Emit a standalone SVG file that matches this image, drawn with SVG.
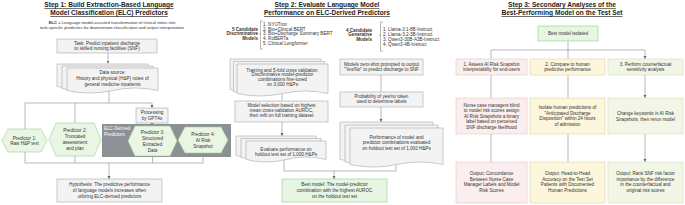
<svg xmlns="http://www.w3.org/2000/svg" width="685" height="205" viewBox="0 0 685 205">
<defs>
<style>
text{font-family:"Liberation Sans",Arial,sans-serif;fill:#333;font-size:4.6px;text-anchor:middle}
.h{font-weight:bold;font-size:6.6px;text-decoration:underline;fill:#222}
.b{font-weight:bold}
.s{font-size:4.2px}
.l{text-anchor:start}
.r{text-anchor:end}
.w{fill:#fff;text-anchor:start}
.box{fill:#f3f3f3;stroke:#a9a9a9;stroke-width:0.6}
.doc{fill:#f3f3f3;stroke:#a9a9a9;stroke-width:0.6}
.grn{fill:#e7f6e2;stroke:#8fcf88;stroke-width:0.6}
.hex{fill:#eaf6e4;stroke:#9ccf8f;stroke-width:0.6}
.pk{fill:#fbeeee;stroke:#e3c6c6;stroke-width:0.6}
.yl{fill:#fbf6dc;stroke:#e0d6a2;stroke-width:0.6}
.lg{fill:#f2f6e6;stroke:#d0ddb8;stroke-width:0.6}
.c{fill:none;stroke:#8a8a8a;stroke-width:0.6}
.a{marker-end:url(#ah)}
</style>
<marker id="ah" markerWidth="4" markerHeight="4" refX="3" refY="1.5" orient="auto" markerUnits="userSpaceOnUse"><path d="M0,0 L3,1.5 L0,3 z" fill="#666"/></marker>
</defs>

<g id="titles">
<text class="h" x="109" y="7.4">Step 1: Build Extraction-Based Language</text>
<text class="h" x="109" y="15.1">Model Classification (ELC) Predictors</text>
<text class="h" x="327" y="7.4">Step 2: Evaluate Language Model</text>
<text class="h" x="327" y="15.1">Performance on ELC-Derived Predictors</text>
<text class="h" x="562" y="7.4">Step 3: Secondary Analyses of the</text>
<text class="h" x="562" y="15.1">Best-Performing Model on the Test Set</text>
</g>

<g id="elc-def">
<text class="s" x="112" y="24.2"><tspan class="b">ELC</tspan> = Language model-assisted transformation of clinical notes into</text>
<text class="s" x="112" y="29.2">task-specific predictors for downstream classification and output interpretation</text>
</g>

<g id="connectors">
<path class="c a" d="M108,53 V63.5"/>
<path class="c" d="M109,91 V103 M25,103 H152"/>
<path class="c a" d="M25,103 V129 M75,103 V123 M152,103 V108"/>
<path class="c a" d="M152,123 V126"/>
<path class="c" d="M177,145 H179"/>
<path class="c" d="M25,152 V163 M75,156 V163 M152.5,156 V163 M203,153 V163 M25,163 H203"/>
<path class="c a" d="M109,163 V179"/>
<path class="c a" d="M282,94 V101 M282,122 V136"/>
<path class="c a" d="M381,75 V92 M381,107 V122"/>
<path class="c" d="M284,160 V171 M396,164.5 V171 M284,171 H396"/>
<path class="c a" d="M334,171 V179"/>
<path class="c" d="M568,41 V50 M491,50 H645"/>
<path class="c a" d="M491,50 V59 M568,50 V59 M645,50 V59"/>
<path class="c a" d="M491,75 V98 M568,75 V98 M645,75 V98"/>
<path class="c a" d="M491,134 V162 M568,134 V162 M645,134 V162"/>
</g>

<g id="task">
<rect class="box" x="57" y="39" width="100" height="14"/>
<text x="107" y="44.6">Task: Predict inpatient discharge</text>
<text x="107" y="50.4">to skilled nursing facilities (SNF)</text>
</g>

<g id="data-source">
<path class="doc" d="M57,64 H148 V86.5 Q125.25,81.5 102.5,86.5 T57,86.5 Z"/>
<path class="doc" d="M62,66 H153 V88.5 Q130.25,83.5 107.5,88.5 T62,88.5 Z"/>
<path class="doc" d="M67,68 H158 V90.5 Q135.25,85.5 112.5,90.5 T67,90.5 Z"/>
<text x="112.5" y="73.7">Data source:</text>
<text x="112.5" y="79.7">History and physical (H&amp;P) notes of</text>
<text x="112.5" y="85.5">general medicine inpatients</text>
</g>

<g id="processing">
<rect class="box" x="136" y="108" width="32" height="15"/>
<text x="152" y="114.3">Processing</text>
<text x="152" y="120.3">by GPT4o</text>
</g>

<g id="elc-region">
<rect x="102" y="124" width="129" height="33" fill="#8d9196"/>
<text class="w" x="104" y="130">ELC-Derived</text>
<text class="w" x="104" y="136">Predictors</text>
</g>

<g id="predictor1">
<polygon class="hex" points="2,140.5 8,129 41,129 47,140.5 41,152 8,152"/>
<text x="24.5" y="139.5">Predictor 1:</text>
<text x="24.5" y="145">Raw H&amp;P text</text>
</g>
<g id="predictor2">
<polygon class="hex" points="49,139.5 56,123 94,123 101,139.5 94,156 56,156"/>
<text x="75" y="131.7">Predictor 2:</text>
<text x="75" y="137.7">Truncated</text>
<text x="75" y="143.7">assessment</text>
<text x="75" y="149.7">and plan</text>
</g>
<g id="predictor3">
<polygon class="hex" points="128,141 135,126 170,126 177,141 170,156 135,156"/>
<text x="152.5" y="134">Predictor 3:</text>
<text x="152.5" y="140">Structured</text>
<text x="152.5" y="146">Extracted</text>
<text x="152.5" y="152">Data</text>
</g>
<g id="predictor4">
<polygon class="hex" points="178,140 185,127 221,127 228,140 221,153 185,153"/>
<text x="203" y="135.7">Predictor 4:</text>
<text x="203" y="141.7">AI Risk</text>
<text x="203" y="147.7">Snapshot</text>
</g>

<g id="hypothesis">
<rect class="box" x="57" y="179" width="105" height="23"/>
<text x="109.5" y="185.5">Hypothesis: The predictive performance</text>
<text x="109.5" y="191.5">of language models increases when</text>
<text x="109.5" y="197.5">utilizing ELC-derived predictors</text>
</g>

<g id="discriminative-models">
<text class="r b" x="258" y="30.5">5 Candidate</text>
<text class="r b" x="258" y="35">Discriminative</text>
<text class="r b" x="258" y="39.5">Models</text>
<path class="c" d="M263,21 H260.5 V49 H263 M260.5,34 H259"/>
<text class="l" x="263" y="25.5">1. NYUTron</text>
<text class="l" x="263" y="30.5">2. Bio+Clinical BERT</text>
<text class="l" x="263" y="35">3. Bio+Discharge Summary BERT</text>
<text class="l" x="263" y="40">4. RoBERTa</text>
<text class="l" x="263" y="45">5. Clinical Longformer</text>
</g>

<g id="generative-models">
<text class="r b" x="372" y="31.5">4 Candidate</text>
<text class="r b" x="372" y="36">Generative</text>
<text class="r b" x="372" y="40.5">Models</text>
<path class="c" d="M383,22 H380.5 V51 H383 M380.5,35 H379"/>
<text class="l" x="383" y="30.5">1. Llama-3.1-8B-Instruct</text>
<text class="l" x="383" y="35.5">2. Llama-3.2-3B-Instruct</text>
<text class="l" x="383" y="40.5">3. Qwen3-30B-A3B-Instruct</text>
<text class="l" x="383" y="45.5">4. Qwen3-4B-Instruct</text>
</g>

<g id="training">
<path class="doc" d="M230,59 H321 V89.5 Q298.25,84.5 275.5,89.5 T230,89.5 Z"/>
<path class="doc" d="M233.5,61.5 H324.5 V91.5 Q301.75,86.5 279,91.5 T233.5,91.5 Z"/>
<path class="doc" d="M237,64 H328 V93.5 Q305.25,88.5 282.5,93.5 T237,93.5 Z"/>
<text x="282.5" y="71.5">Training and 5-fold cross validation:</text>
<text x="282.5" y="76.3">Discriminative model-predictor</text>
<text x="282.5" y="81.1">combinations fine-tuned</text>
<text x="282.5" y="85.9">on 3,000 H&amp;Ps</text>
</g>

<g id="model-selection">
<rect class="box" x="235" y="101" width="93" height="21"/>
<text x="281.5" y="106.6">Model selection based on highest</text>
<text x="281.5" y="111.6">mean cross-validation AUROC,</text>
<text x="281.5" y="116.6">then refit on full training dataset</text>
</g>

<g id="evaluate">
<path class="doc" d="M236,136 H316 V155.5 Q296,150.5 276,155.5 T236,155.5 Z"/>
<path class="doc" d="M241,138.5 H321 V157.5 Q301,152.5 281,157.5 T241,157.5 Z"/>
<path class="doc" d="M246,141 H326 V159.5 Q306,154.5 286,159.5 T246,159.5 Z"/>
<text x="286" y="150.6">Evaluate performance on</text>
<text x="286" y="156.4">holdout test set of 1,000 H&amp;Ps</text>
</g>

<g id="zero-shot">
<rect class="box" x="340" y="59" width="83" height="16"/>
<text x="381.5" y="65.6">Models zero-shot prompted to output</text>
<text x="381.5" y="70.6">"Yes/No" to predict discharge to SNF</text>
</g>

<g id="probability">
<rect class="box" x="340" y="92" width="83" height="15"/>
<text x="381.5" y="97.6">Probability of yes/no token</text>
<text x="381.5" y="102.8">used to determine labels</text>
</g>

<g id="performance">
<path class="doc" d="M340,122 H433 V159.5 Q409.75,154.5 386.5,159.5 T340,159.5 Z"/>
<path class="doc" d="M345,125 H438 V162 Q414.75,157 391.5,162 T345,162 Z"/>
<path class="doc" d="M350,128 H443 V164.5 Q419.75,159.5 396.5,164.5 T350,164.5 Z"/>
<text x="396.5" y="138.5">Performance of model and</text>
<text x="396.5" y="144">predictor combinations evaluated</text>
<text x="396.5" y="149.5">on holdout test set of 1,000 H&amp;Ps</text>
</g>

<g id="best-model">
<rect class="grn" x="282" y="179" width="105" height="23"/>
<text x="334.5" y="185.5">Best model: The model-predictor</text>
<text x="334.5" y="191.5">combination with the highest AUROC</text>
<text x="334.5" y="197.5">on the holdout test set</text>
</g>

<g id="best-isolated">
<rect class="grn" x="538" y="26" width="60" height="15"/>
<text x="568" y="35">Best model isolated</text>
</g>

<g id="assess">
<rect class="pk" x="456" y="59" width="71" height="16"/>
<text x="491.5" y="66.2">1. Assess AI Risk Snapshot</text>
<text x="491.5" y="71.4">interpretability for end-users</text>
</g>
<g id="compare">
<rect class="yl" x="530" y="59" width="75" height="16"/>
<text x="567.5" y="66.2">2. Compare to human</text>
<text x="567.5" y="71.4">predictive performance</text>
</g>
<g id="counterfactual">
<rect class="lg" x="608" y="59" width="75" height="16"/>
<text x="645.5" y="66.2">3. Perform counterfactual</text>
<text x="645.5" y="71.4">sensitivity analysis</text>
</g>

<g id="nurse">
<rect class="pk" x="456" y="98" width="71" height="36"/>
<text x="491.5" y="106.6">Nurse case managers blind</text>
<text x="491.5" y="112.1">to model risk scores assign</text>
<text x="491.5" y="117.6">AI Risk Snapshots a binary</text>
<text x="491.5" y="123.1">label based on perceived</text>
<text x="491.5" y="128.6">SNF discharge likelihood</text>
</g>
<g id="isolate">
<rect class="yl" x="530" y="98" width="75" height="36"/>
<text x="567.5" y="109.4">Isolate human predictions of</text>
<text x="567.5" y="114.9">"Anticipated Discharge</text>
<text x="567.5" y="120.4">Disposition" within 24 hours</text>
<text x="567.5" y="125.9">of admission</text>
</g>
<g id="change">
<rect class="lg" x="608" y="98" width="75" height="36"/>
<text x="645.5" y="115">Change keywords in AI Risk</text>
<text x="645.5" y="120.5">Snapshots, then rerun model</text>
</g>

<g id="output1">
<rect class="pk" x="456" y="162" width="71" height="41"/>
<text x="491.5" y="175">Output: Concordance</text>
<text x="491.5" y="180.5">Between Nurse Case</text>
<text x="491.5" y="186">Manager Labels and Model</text>
<text x="491.5" y="191.5">Risk Scores</text>
</g>
<g id="output2">
<rect class="yl" x="530" y="162" width="75" height="41"/>
<text x="567.5" y="175">Output: Head-to-Head</text>
<text x="567.5" y="180.5">Accuracy on the Test Set</text>
<text x="567.5" y="186">Patients with Documented</text>
<text x="567.5" y="191.5">Human Predictions</text>
</g>
<g id="output3">
<rect class="lg" x="608" y="162" width="75" height="41"/>
<text x="645.5" y="175">Output: Rank SNF risk factor</text>
<text x="645.5" y="180.5">importance by the difference</text>
<text x="645.5" y="186">in the counterfactual and</text>
<text x="645.5" y="191.5">original risk scores</text>
</g>
</svg>
